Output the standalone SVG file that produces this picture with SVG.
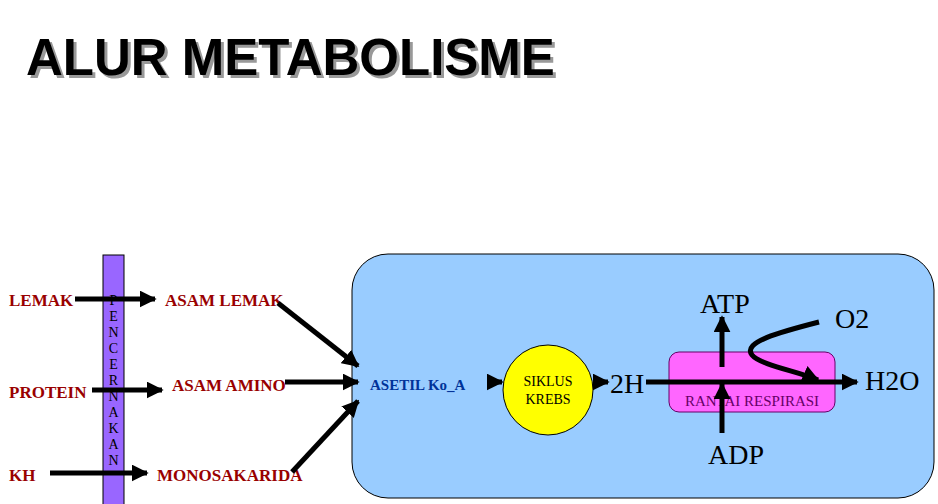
<svg xmlns="http://www.w3.org/2000/svg" width="938" height="504" viewBox="0 0 938 504">
<style>
.l{font-family:"Liberation Serif",serif;font-weight:bold;fill:#990000;font-size:17px}
.c{stroke:#000;stroke-width:5;fill:none}
.t{font-family:"Liberation Serif",serif;fill:#000;font-size:28px}
</style>
<defs><marker id="a" viewBox="0 0 10 10" refX="9" refY="5" markerWidth="3.4" markerHeight="3.4" orient="auto" markerUnits="strokeWidth"><path d="M0 0L10 5L0 10z" fill="#000"/></marker></defs>
<rect width="938" height="504" fill="#fff"/>
<g id="title" font-family="Liberation Sans,sans-serif" font-weight="bold" font-size="51">
<text x="29" y="78" fill="#999">ALUR METABOLISME</text>
<text x="26" y="75" fill="#000">ALUR METABOLISME</text></g>
<g id="cell"><rect x="352" y="254" width="582" height="244" rx="36" fill="#99ccff" stroke="#000" stroke-width="1"/></g>
<g id="pencernakan"><rect x="103" y="255" width="21" height="252" fill="#9966ff" stroke="#000"/>
<text font-family="Liberation Serif,serif" font-size="14" fill="#000" text-anchor="middle">
<tspan x="113.5" y="305">P</tspan><tspan x="113.5" y="321">E</tspan><tspan x="113.5" y="337">N</tspan><tspan x="113.5" y="353">C</tspan><tspan x="113.5" y="369">E</tspan><tspan x="113.5" y="385">R</tspan><tspan x="113.5" y="401">N</tspan><tspan x="113.5" y="417">A</tspan><tspan x="113.5" y="433">K</tspan><tspan x="113.5" y="449">A</tspan><tspan x="113.5" y="465">N</tspan></text>
</g>
<g id="labels">
<text class="l" x="9" y="306">LEMAK</text>
<text class="l" x="9" y="398">PROTEIN</text>
<text class="l" x="9" y="481">KH</text>
<text class="l" x="165" y="306">ASAM LEMAK</text>
<text class="l" x="172" y="391">ASAM AMINO</text>
<text class="l" x="157" y="481">MONOSAKARIDA</text>
</g>
<g id="asetil"><text x="370" y="390" font-family="Liberation Serif,serif" font-weight="bold" font-size="15" fill="#003399">ASETIL Ko_A</text></g>
<g id="krebs"><circle cx="548" cy="390" r="45" fill="#ffff00" stroke="#000"/>
<text font-family="Liberation Serif,serif" font-size="14" text-anchor="middle" fill="#000"><tspan x="548" y="386">SIKLUS</tspan><tspan x="548" y="404">KREBS</tspan></text></g>
<g id="rantai"><rect x="669" y="352" width="166" height="60" rx="10" fill="#ff66ff" stroke="#660066"/>
<text x="752" y="406" text-anchor="middle" font-family="Liberation Serif,serif" font-size="15" fill="#660066">RANTAI RESPIRASI</text></g>
<g id="texts">
<text class="t" x="610" y="393">2H</text>
<text class="t" x="700" y="313">ATP</text>
<text class="t" x="835" y="328">O2</text>
<text class="t" x="865" y="390">H2O</text>
<text class="t" x="708" y="464">ADP</text>
</g>
<g id="connectors">
<line class="c" x1="75" y1="299" x2="155" y2="299" marker-end="url(#a)"/>
<line class="c" x1="92" y1="390" x2="162" y2="390" marker-end="url(#a)"/>
<line class="c" x1="50" y1="473" x2="147" y2="473" marker-end="url(#a)"/>
<line class="c" x1="278" y1="303" x2="358" y2="366" marker-end="url(#a)"/>
<line class="c" x1="285" y1="382" x2="358" y2="382" marker-end="url(#a)"/>
<line class="c" x1="292" y1="472" x2="358" y2="401" marker-end="url(#a)"/>
<line class="c" x1="487" y1="382" x2="502" y2="382" stroke-width="3" marker-end="url(#a)"/>
<line class="c" x1="593" y1="382" x2="608" y2="382" stroke-width="3" marker-end="url(#a)"/>
<line class="c" x1="646" y1="382" x2="857" y2="382" stroke-width="3" marker-end="url(#a)"/>
<line class="c" x1="722" y1="367" x2="722" y2="317" stroke-width="3" marker-end="url(#a)"/>
<line class="c" x1="722" y1="433" x2="722" y2="384" stroke-width="3" marker-end="url(#a)"/>
<path class="c" d="M819 322C780 332 742 342 752 355C760 365 800 372 818 380" stroke-width="3" marker-end="url(#a)"/>
</g>
</svg>
